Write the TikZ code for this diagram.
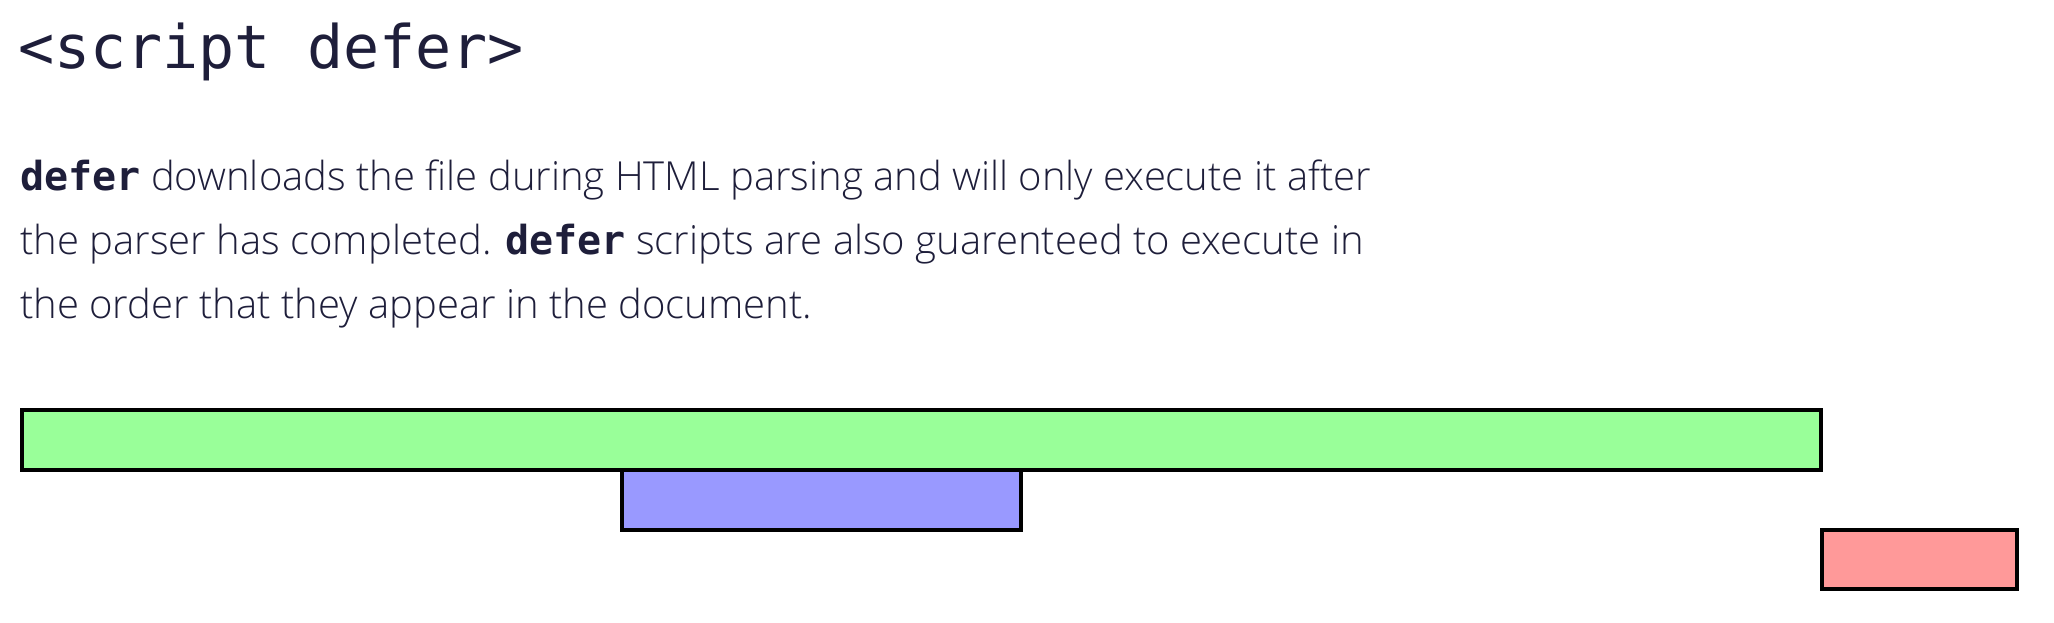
\documentclass[tikz,border=0pt]{standalone}
\usepackage{fontspec}
\IfFontExistsTF{Open Sans Light}{\setmainfont{Open Sans Light}\def\bodysize{40}}{\setmainfont{Open Sans}\def\bodysize{38.6}}
\newfontfamily\monofont{DejaVu Sans Mono}
\definecolor{ink}{HTML}{1E1E3A}
\definecolor{parsegreen}{HTML}{99FF99}
\definecolor{fetchblue}{HTML}{9999FF}
\definecolor{execred}{HTML}{FF9999}
\begin{document}
\begin{tikzpicture}[x=1pt,y=-1pt,
  bar/.style={draw=black,line width=4pt,inner sep=0pt,outer sep=0pt,rectangle},
  bodyline/.style={anchor=base west,inner sep=0pt,text=ink,font=\fontsize{\bodysize}{40}\selectfont}]
\useasboundingbox (0,0) rectangle (2054,622);
\node[anchor=base west,inner sep=0pt,text=ink,font=\monofont\fontsize{60}{60}\selectfont] (title) at (18,68) {<script defer>};
\node[bodyline] (l1) at (20,190) {{\monofont\bfseries defer} downloads the file during HTML parsing and will only execute it after};
\node[bodyline] (l2) at (20,254) {the parser has completed. {\monofont\bfseries defer} scripts are also guarenteed to execute in};
\node[bodyline] (l3) at (20,318) {the order that they appear in the document.};
\node[bar,fill=fetchblue,minimum width=399pt,minimum height=60pt] (fetch) at (821.5,500) {};
\node[bar,fill=parsegreen,minimum width=1799pt,minimum height=60pt] (parse) at (921.5,440) {};
\node[bar,fill=execred,minimum width=195pt,minimum height=59pt] (exec) at (1919.5,559.5) {};
\end{tikzpicture}
\end{document}
